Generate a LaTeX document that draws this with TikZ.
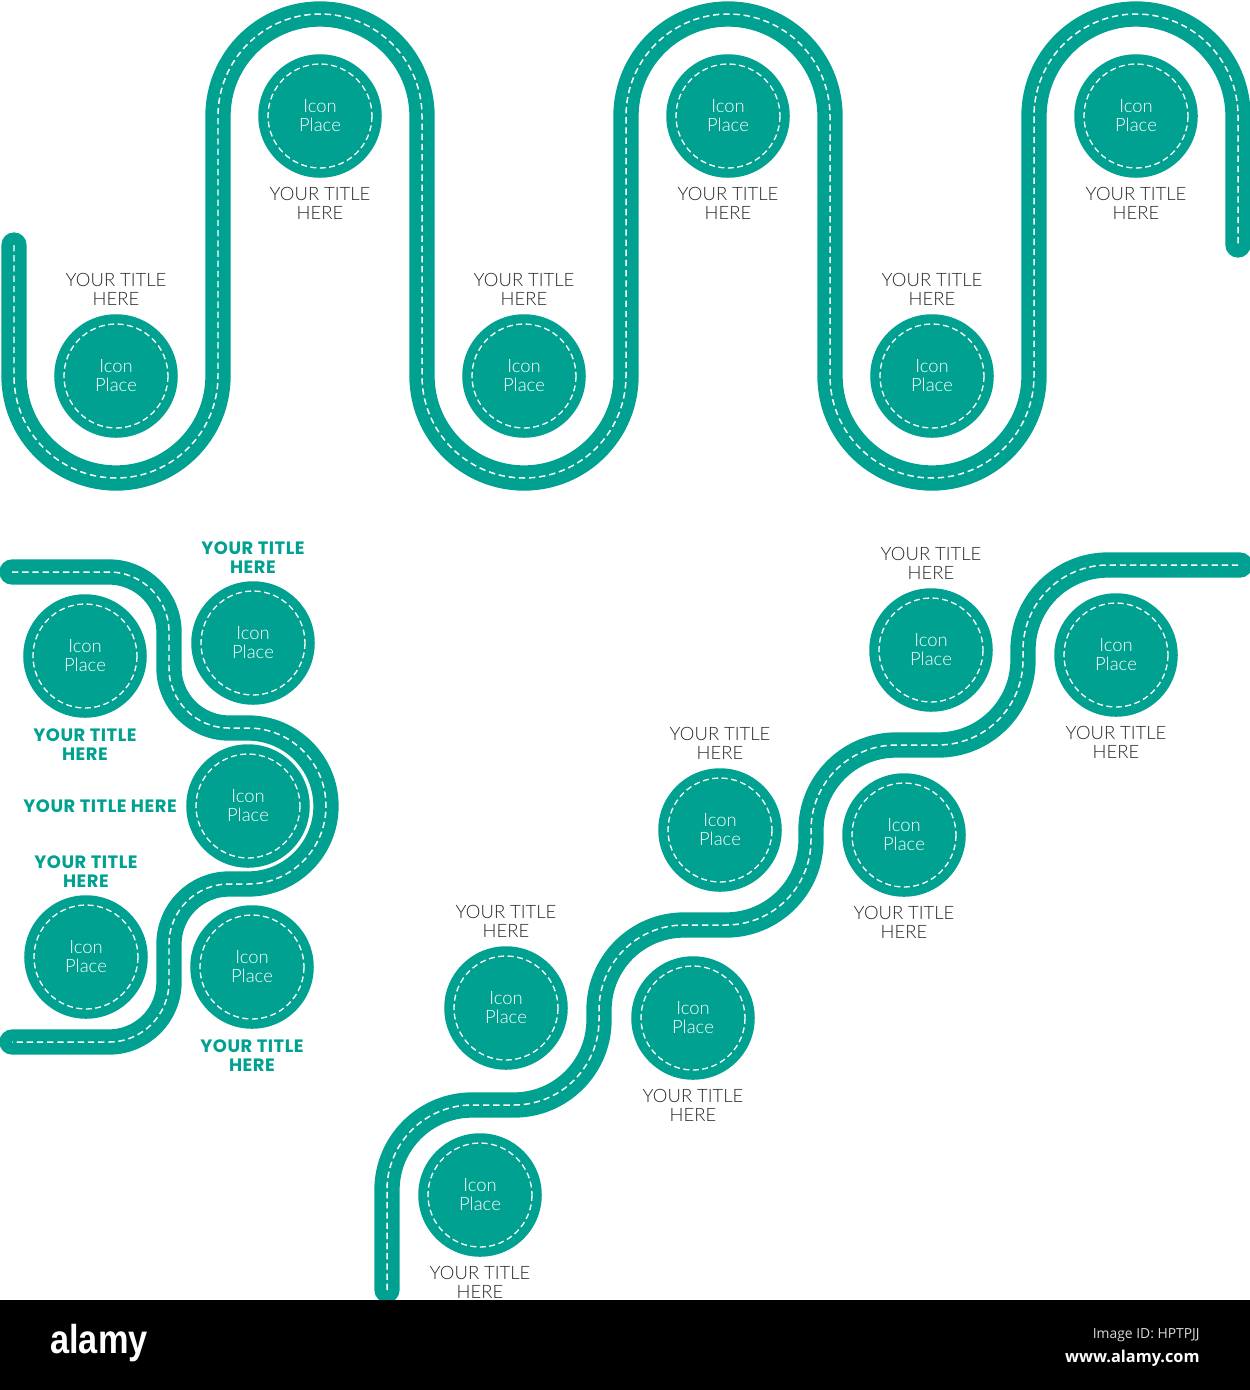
\documentclass[tikz,border=0pt]{standalone}
\usepackage{fontspec}
\setmainfont{Lato}
\newfontfamily\thinfont{Lato Light}
\newfontfamily\heavyfont{Poppins}[LetterSpace=3]
\newfontfamily\bandfont{Open Sans}
\newfontfamily\logofont{Liberation Sans}
\usetikzlibrary{positioning}
\definecolor{roadteal}{RGB}{0,161,144}
\definecolor{titlegray}{RGB}{40,40,40}
\tikzset{
  road/.style={draw=roadteal, line width=14.4pt, line cap=round,
    postaction={draw=white, line width=0.85pt, line cap=butt, dash pattern=on 3.6pt off 2.2pt}},
  ring/.style={draw=white, line width=0.75pt, dash pattern=on 3.4pt off 2pt},
  iconbox/.style={circle, fill=roadteal, minimum size=70.3pt, inner sep=0pt, text=white,
    align=center, font=\thinfont\fontsize{10.5}{10.8}\selectfont},
  ttl/.style={align=center, text=titlegray, inner sep=0pt, font=\thinfont\fontsize{10.5}{10.8}\selectfont},
  bttl/.style={align=center, text=roadteal, inner sep=0pt, font=\heavyfont\bfseries\fontsize{10.2}{10.8}\selectfont}
}

\begin{document}
\begin{tikzpicture}[x=0.02cm, y=-0.02cm]
    \useasboundingbox (0,0) rectangle (1250,1390);
    \fill[white] (0,0) rectangle (1250,1300);

    % Top road (meander)
    \draw[road] (14,245) -- (14,376)
      \foreach \k in {1,2} {
        arc[start angle=180, end angle=0, radius=102] -- ++(0,-260)
        arc[start angle=180, end angle=360, radius=102] -- ++(0,260)
      }
      arc[start angle=180, end angle=0, radius=102] -- ++(0,-260)
      arc[start angle=180, end angle=360, radius=102] -- (1238,245);

    % Left road (around the middle circle)
    \draw[road] (12,572) -- (109,572)
      arc[start angle=270, end angle=360, radius=60] -- (169,668)
      arc[start angle=180, end angle=90, radius=60] -- (248,728)
      arc[start angle=270, end angle=450, radius=78] -- (229,884)
      arc[start angle=270, end angle=180, radius=60] -- (169,982)
      arc[start angle=0, end angle=90, radius=60] -- (12,1042);

    % Staircase road
    \draw[road] (387,1290) -- ++(0,-100)
      \foreach \k in {1,2,3} {
        arc[start angle=180, end angle=270, radius=85] -- ++(42,0)
        arc[start angle=90, end angle=0, radius=85] -- ++(0,-10)
      }
      arc[start angle=180, end angle=270, radius=85] -- (1240,565);

    % Icon circles
    \foreach \n/\x/\y in {t1/116/376, t2/320/116, t3/524/376, t4/728/116, t5/932/376, t6/1136/116,
                          l1/85/656, l2/253/643, l3/248/806, l4/86/957, l5/252/967,
                          s1/480/1195, s2/506/1008, s3/693/1018, s4/720/830, s5/904/835,
                          s6/931/650, s7/1116/655} {
        \node[iconbox] (\n) at (\x,\y) {Icon\\Place};
        \draw[ring] (\n) circle (52);
    }

    % Titles
    \foreach \n in {t1,t3,t5,s2,s4,s6}
        \node[ttl, above=4.5pt of \n] (\n-title) {YOUR TITLE\\HERE};
    \foreach \n in {t2,t4,t6,s1,s3,s5,s7}
        \node[ttl, below=5pt of \n] (\n-title) {YOUR TITLE\\HERE};
    \node[bttl, below=6pt of l1] (l1-title) {YOUR TITLE\\HERE};
    \node[bttl, above=4pt of l2] (l2-title) {YOUR TITLE\\HERE};
    \node[bttl, left=5pt of l3] (l3-title) {YOUR TITLE HERE};
    \node[bttl, above=4pt of l4] (l4-title) {YOUR TITLE\\HERE};
    \node[bttl, below=6pt of l5] (l5-title) {YOUR TITLE\\HERE};

    % Stock band
    \fill[black] (0,1300) rectangle (1250,1390);
    \node[text=white, inner sep=0pt, anchor=base west, xscale=0.85,
          font=\logofont\bfseries\fontsize{23}{23}\selectfont] (logo) at (50,1353) {alamy};
    \node[text=white!85!black, inner sep=0pt, anchor=base east,
          font=\bandfont\fontsize{7.9}{8}\selectfont] (imgid) at (1200,1338) {Image ID: HPTPJJ};
    \node[text=white, inner sep=0pt, anchor=base east,
          font=\bandfont\bfseries\fontsize{9.3}{10}\selectfont] (site) at (1200,1362) {www.alamy.com};
\end{tikzpicture}
\end{document}
